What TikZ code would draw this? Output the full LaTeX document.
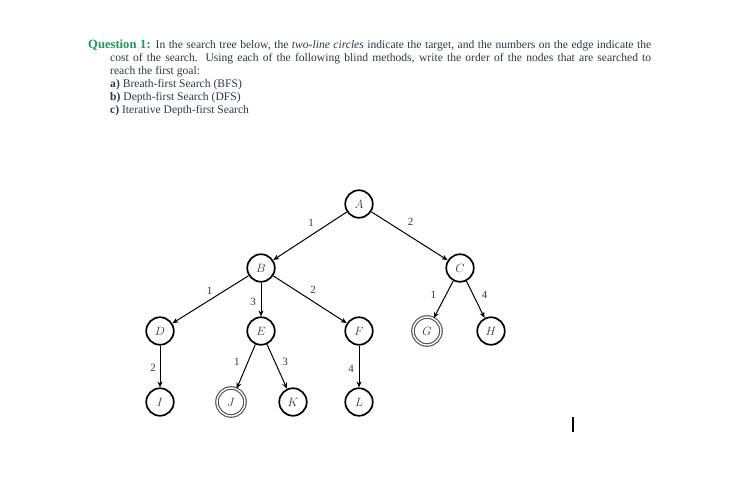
\documentclass[tikz,border=0pt]{standalone}
\usepackage{fontspec}
\setmainfont{Liberation Serif}
\usepackage{tikz}
\usetikzlibrary{positioning, arrows.meta}
\definecolor{qgreen}{RGB}{30,150,90}
\definecolor{qtext}{RGB}{45,55,75}
\definecolor{nodeink}{RGB}{55,55,55}
\definecolor{goalring}{RGB}{80,80,80}

\begin{document}
\begin{tikzpicture}[x=1pt, y=-1pt, >={Stealth[length=6pt,width=5pt]}]
\tikzset{
    state/.style={circle, draw=black, line width=1.7pt, minimum size=27.5pt, inner sep=0pt, text=nodeink, font=\fontsize{12}{12}\selectfont},
    goal/.style={circle, draw=goalring, line width=1.1pt, double=white, double distance=1.4pt, minimum size=28pt, inner sep=0pt, text=nodeink, font=\fontsize{12}{12}\selectfont},
    cost/.style={text=nodeink, font=\fontsize{11}{11}\selectfont, inner sep=0pt},
    edge/.style={->, line width=1pt}
}

% Page
\fill[white] (0,0) rectangle (736,490);
\useasboundingbox (0,0) rectangle (736,490);

% Question text
\node[anchor=north west, text width=563pt, inner sep=0pt, text=qtext,
      font=\fontsize{11.6}{13}\selectfont, align=justify] (question) at (88,40) {%
    \leftskip=22pt \parindent=0pt
    \hskip-22pt{\fontsize{12.6}{13}\selectfont\bfseries\color{qgreen}Question 1:} In the search tree below, the \textit{two-line circles} indicate the target, and the numbers on the edge indicate the\linebreak cost of the search. Using each of the following blind methods, write the order of the nodes that are searched to\linebreak reach the first goal:\par
    \textbf{a)} Breath-first Search (BFS)\par
    \textbf{b)} Depth-first Search (DFS)\par
    \textbf{c)} Iterative Depth-first Search\par};

% Tree nodes
\node[state] (A) at (359,204) {$A$};
\node[state] (B) at (261,268) {$B$};
\node[state] (C) at (460,268) {$C$};
\node[state] (D) at (160,331) {$D$};
\node[state] (E) at (261,331) {$E$};
\node[state] (F) at (359,331) {$F$};
\node[goal]  (G) at (427,331) {$G$};
\node[state] (H) at (491,331) {$H$};
\node[state] (I) at (160,402) {$I$};
\node[goal]  (J) at (231,402) {$J$};
\node[state] (K) at (293,402) {$K$};
\node[state] (L) at (359,402) {$L$};

% Edges with costs
\draw[edge] (A) -- (B) node[cost, midway, xshift=1pt, yshift=13pt] {1};
\draw[edge] (A) -- (C) node[cost, midway, xshift=1pt, yshift=14pt] {2};
\draw[edge] (B) -- (D) node[cost, midway, xshift=-1pt, yshift=9pt] {1};
\draw[edge] (B) -- (E) node[cost, midway, xshift=-8pt, yshift=-2pt] {3};
\draw[edge] (B) -- (F) node[cost, midway, xshift=3pt, yshift=10pt] {2};
\draw[edge] (C) -- (G) node[cost, midway, xshift=-10pt, yshift=5pt] {1};
\draw[edge] (C) -- (H) node[cost, midway, xshift=9pt, yshift=5pt] {4};
\draw[edge] (D) -- (I) node[cost, midway, xshift=-7pt, yshift=-1pt] {2};
\draw[edge] (E) -- (J) node[cost, midway, xshift=-9pt, yshift=5pt] {1};
\draw[edge] (E) -- (K) node[cost, midway, xshift=8pt, yshift=5pt] {3};
\draw[edge] (F) -- (L) node[cost, midway, xshift=-8pt, yshift=-2pt] {4};

% Text cursor
\draw[line width=1.8pt] (573,417) -- (573,432);

\end{tikzpicture}
\end{document}
